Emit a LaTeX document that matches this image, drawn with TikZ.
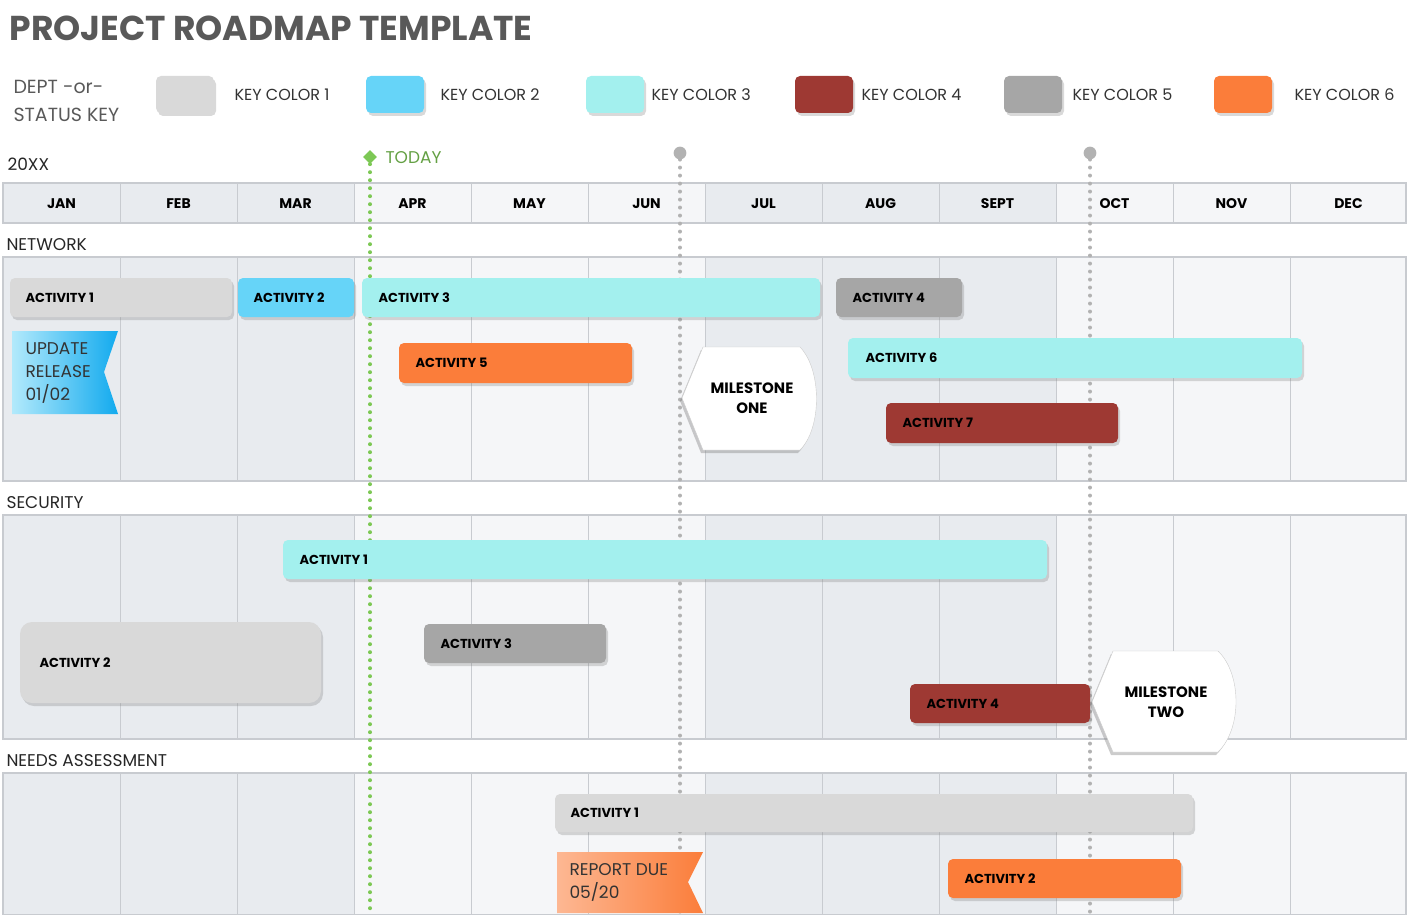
\documentclass[tikz,border=0pt]{standalone}
\usepackage{fontspec}
\setmainfont{Poppins}
\usetikzlibrary{shadows,calc,shapes.geometric}
\definecolor{gray1}{HTML}{D9D9D9}
\definecolor{blue1}{HTML}{66D4F8}
\definecolor{blue2}{HTML}{12AAEE}
\definecolor{aqua1}{HTML}{A3F0EE}
\definecolor{darkred1}{HTML}{9E3933}
\definecolor{gray2}{HTML}{A6A6A6}
\definecolor{orange1}{HTML}{FB7D3A}
\definecolor{shadeA}{HTML}{E8EBEF}
\definecolor{shadeB}{HTML}{F5F6F8}
\definecolor{gridc}{HTML}{C8CBD0}
\definecolor{title1}{HTML}{595959}
\definecolor{today1}{HTML}{7DC855}
\begin{document}
\begin{tikzpicture}[x=1pt,y=-1pt,
  bar/.style={rounded corners=5pt, drop shadow={opacity=0.3,shadow xshift=2pt,shadow yshift=-3pt},
    inner sep=0pt, font=\fontsize{13}{14}\selectfont\bfseries},
  lbl/.style={anchor=west, font=\fontsize{13}{14}\selectfont\bfseries},
  sect/.style={anchor=west, font=\fontsize{17}{18}\selectfont, text=black!85},
  month/.style={font=\fontsize{14}{15}\selectfont\bfseries},
  key/.style={anchor=west, font=\fontsize{16}{18}\selectfont, text=black!80},
  swatch/.style={rounded corners=5pt, drop shadow={opacity=0.3,shadow xshift=2pt,shadow yshift=-3pt}},
  ms/.style={fill=white, draw=gray!40, drop shadow={opacity=0.4,shadow xshift=-2pt,shadow yshift=-3pt}},
  dots/.style={line width=4pt, line cap=round, dash pattern=on 0pt off 8pt},
]
\useasboundingbox (0,0) rectangle (1417,915);
% title and legend
\node[anchor=west, font=\fontsize{34.5}{40}\selectfont\bfseries, text=title1] (title) at (6,28) {PROJECT ROADMAP TEMPLATE};
\node[anchor=west, align=left, font=\fontsize{19}{28}\selectfont, text=black!65] (dept) at (10,101) {DEPT -or-\\STATUS KEY};
\foreach \c/\x/\t [count=\i] in {gray1/156/231, blue1/366/437, aqua1/586/648, darkred1/795/858, gray2/1004/1069, orange1/1214/1291}{
  \fill[swatch, \c] (\x,76) rectangle ++(58,37);
  \node[key] (key\i) at (\t,95) {KEY COLOR \i};
}
\node[anchor=west, font=\fontsize{17}{18}\selectfont, text=black!85] (year) at (4,164) {20XX};
% bands and columns
\foreach \yt/\yb in {183/223, 257/481, 515/739, 773/915}{
  \foreach \m in {0,...,11}{
    \pgfmathsetmacro\xa{3+117*\m}
    \pgfmathtruncatemacro\q{mod(floor(\m/3),2)}
    \ifnum\q=0 \def\fc{shadeA}\else\def\fc{shadeB}\fi
    \fill[\fc] (\xa,\yt) rectangle ++(117,\yb-\yt);
    \draw[gridc, line width=0.8pt] (\xa,\yt) -- (\xa,\yb);
  }
  \draw[gridc, line width=1.2pt] (3,\yt) rectangle (1406,\yb);
}
\foreach \t [count=\i from 0] in {JAN,FEB,MAR,APR,MAY,JUN,JUL,AUG,SEPT,OCT,NOV,DEC}{
  \node[month] (m\i) at (61.5+117*\i,204) {\t};
}
\node[sect] (net) at (3,245) {NETWORK};
\node[sect] (sec) at (3,503) {SECURITY};
\node[sect] (need) at (3,761) {NEEDS ASSESSMENT};
% marker lines
\coordinate (tb) at (370,915);
\node[diamond, fill=today1, inner sep=3.5pt] (today) at (370,157) {};
\node[anchor=west, font=\fontsize{17}{18}\selectfont, text=today1!80!black] (todayl) at (382,158) {TODAY};
\draw[today1, dots] (today) -- (tb);
\node[circle, fill=gray!60, inner sep=4.5pt] (p1) at (680,153) {};
\node[circle, fill=gray!60, inner sep=4.5pt] (p2) at (1090,153) {};
\coordinate (p1b) at (680,915);
\coordinate (p2b) at (1090,915);
\draw[gray!60, dots] (p1) -- (p1b);
\draw[gray!60, dots] (p2) -- (p2b);
% network bars
\fill[bar, gray1] (10,278) rectangle (232,317);   \node[lbl] (n1) at (22,297.5) {ACTIVITY 1};
\fill[bar, blue1] (238,278) rectangle (354,317);  \node[lbl] (n2) at (250,297.5) {ACTIVITY 2};
\fill[bar, aqua1] (362,278) rectangle (820,317);  \node[lbl] (n3) at (375,297.5) {ACTIVITY 3};
\fill[bar, gray2] (836,278) rectangle (962,317);  \node[lbl] (n4) at (849,297.5) {ACTIVITY 4};
\fill[bar, orange1] (399,343) rectangle (632,383); \node[lbl] (n5) at (412,363) {ACTIVITY 5};
\fill[bar, aqua1] (848,338) rectangle (1302,378); \node[lbl] (n6) at (862,358) {ACTIVITY 6};
\fill[bar, darkred1] (886,403) rectangle (1118,443); \node[lbl] (n7) at (899,423) {ACTIVITY 7};
\shade[left color=blue1!50, right color=blue2] (12,331) -- (118,331) -- (104,372) -- (118,414) -- (12,414) -- cycle;
\node[anchor=west, align=left, font=\fontsize{17}{23}\selectfont, text=black!80] (upd) at (22,373) {UPDATE\\RELEASE\\01/02};
\path[ms] (682,398) -- (703,347) -- (800,347) .. controls (822,370) and (822,428) .. (800,450) -- (703,450) -- cycle;
\node[align=center, font=\fontsize{15}{20}\selectfont\bfseries] (ms1) at (752,398) {MILESTONE\\ONE};
% security bars
\fill[bar, aqua1] (283,540) rectangle (1047,579); \node[lbl] (s1) at (296,559.5) {ACTIVITY 1};
\fill[bar, gray1, rounded corners=12pt] (20,622) rectangle (321,703); \node[lbl] (s2) at (36,663) {ACTIVITY 2};
\fill[bar, gray2] (424,624) rectangle (606,663); \node[lbl] (s3) at (437,643.5) {ACTIVITY 3};
\fill[bar, darkred1] (910,684) rectangle (1090,723); \node[lbl] (s4) at (923,703.5) {ACTIVITY 4};
\path[ms] (1092,702) -- (1113,651) -- (1218,651) .. controls (1242,674) and (1242,729) .. (1218,752) -- (1113,752) -- cycle;
\node[align=center, font=\fontsize{15}{20}\selectfont\bfseries] (ms2) at (1166,702) {MILESTONE\\TWO};
% needs assessment bars
\fill[bar, gray1] (555,794) rectangle (1193,832); \node[lbl] (a1) at (567,813) {ACTIVITY 1};
\shade[left color=orange1!55, right color=orange1] (557,852) -- (703,852) -- (688,882) -- (703,913) -- (557,913) -- cycle;
\node[anchor=west, align=left, font=\fontsize{17}{23}\selectfont, text=black!80] (rep) at (566,882) {REPORT DUE\\05/20};
\fill[bar, orange1] (948,859) rectangle (1181,898); \node[lbl] (a2) at (961,878.5) {ACTIVITY 2};
\end{tikzpicture}
\end{document}
